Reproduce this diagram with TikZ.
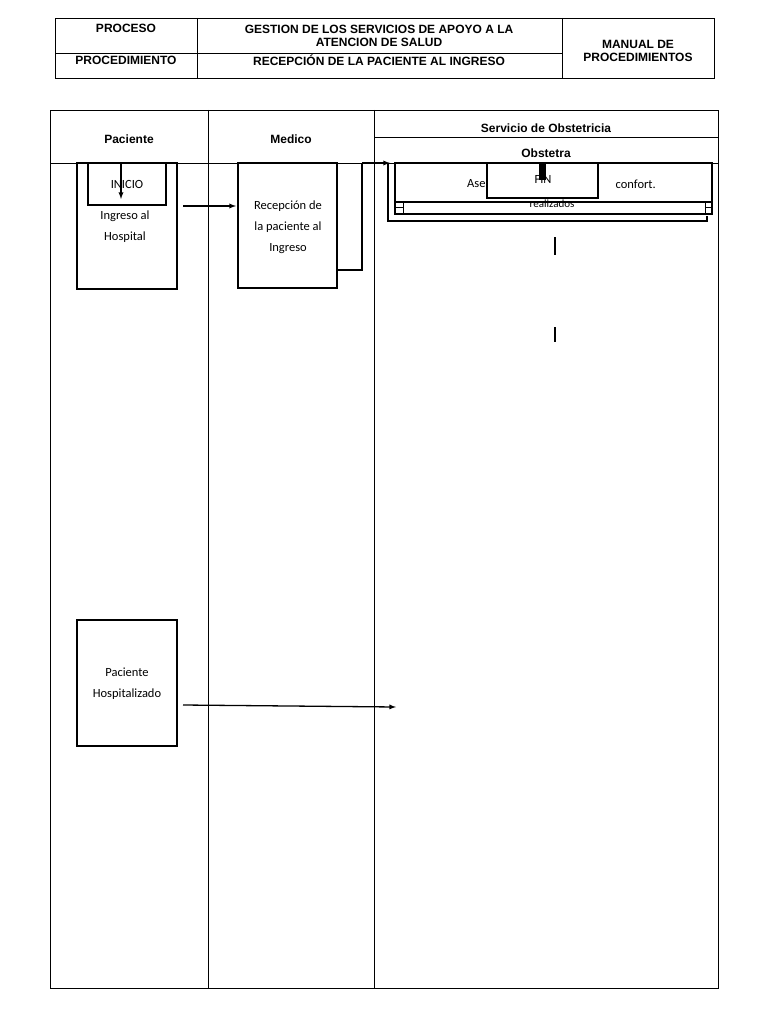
\documentclass[tikz,border=0pt]{standalone}
\usepackage{fontspec}
\setmainfont{Carlito}
\newfontfamily\hdr{Liberation Sans}
\begin{document}
\begin{tikzpicture}[x=1pt,y=-1pt,
  hd/.style={font=\hdr\bfseries\fontsize{12}{12.5}\selectfont,align=center,inner sep=0pt},
  bx/.style={draw,line width=1.3pt,fill=white},
  tx/.style={font=\fontsize{12.5}{21}\selectfont,align=center,inner sep=0pt},
  ar/.style={-latex,line width=1.3pt},
  thin/.style={line width=0.6pt}]
\useasboundingbox (0,0) rectangle (768,1024);
% header table
\draw[thin] (55,18) rectangle (714,78);
\draw[thin] (197,18) -- (197,78) (562,18) -- (562,78) (55,53) -- (562,53);
\node[hd] (p) at (126,28) {PROCESO};
\node[hd] (g) at (379,36) {GESTION DE LOS SERVICIOS DE APOYO A LA\\ATENCION DE SALUD};
\node[hd] (pr) at (126,60) {PROCEDIMIENTO};
\node[hd] (r) at (379,60) {RECEPCIÓN DE LA PACIENTE AL INGRESO};
\node[hd] (m) at (638,51) {MANUAL DE\\PROCEDIMIENTOS};
% lanes
\draw[thin] (50,110) rectangle (718,988);
\draw[thin] (208,110) -- (208,988) (374,110) -- (374,988);
\draw[thin] (50,163) -- (718,163) (374,137) -- (718,137);
\node[hd] (lp) at (129,139) {Paciente};
\node[hd] (lm) at (291,139) {Medico};
\node[hd] (ls) at (546,128) {Servicio de Obstetricia};
\node[hd] (lo) at (546,153) {Obstetra};
% paciente column
\draw[bx] (77,163) rectangle (177,289);
\node[tx] (ing) at (125,227) {Ingreso al\\Hospital};
\draw[bx] (88,163) rectangle (166,205);
\node[tx] (ini) at (127,184) {INICIO};
\coordinate (a1) at (121,163); \coordinate (a2) at (121,199);
\draw[ar] (a1) -- (a2);
\coordinate (b1) at (183,206); \coordinate (b2) at (236,206);
\draw[ar] (b1) -- (b2);
% medico
\draw[bx] (238,163) rectangle (337,288);
\node[tx] (rec) at (288,227) {Recepción de\\la paciente al\\Ingreso};
\coordinate (c1) at (337,270); \coordinate (c2) at (362,270);
\coordinate (c3) at (362,163); \coordinate (c4) at (390,163);
\draw[line width=1.3pt] (c1) -- (c2) -- (c3);
\draw[ar] (c3) -- (c4);
% obstetra area
\draw[line width=1.3pt] (388,163) -- (388,221) -- (707,221) -- (707,216);
\draw[bx] (395,163) rectangle (712,214);
\draw[line width=1.3pt] (395,202) -- (712,202);
\draw[line width=1pt] (403,202) -- (403,214) (705,202) -- (705,214) (395,208) -- (403,208) (705,208) -- (712,208);
\node[tx,anchor=west] (ase) at (467,184) {Ase};
\node[tx,anchor=east] (con) at (656,184) {confort.};
\node[tx,font=\fontsize{11}{12}\selectfont] (rea) at (552,204) {realizados};
\draw[bx] (487,163) rectangle (598,198);
\node[tx] (fin) at (543,179) {FIN};
\fill (539,163) rectangle (546,180);
\draw[line width=2pt] (555,237) -- (555,255);
\draw[line width=2pt] (555,327) -- (555,342);
% hospitalizado
\draw[bx] (77,620) rectangle (177,746);
\node[tx] (hos) at (127,684) {Paciente\\Hospitalizado};
\coordinate (d1) at (183,705); \coordinate (d2) at (396,707);
\draw[ar] (d1) -- (d2);
\end{tikzpicture}
\end{document}
